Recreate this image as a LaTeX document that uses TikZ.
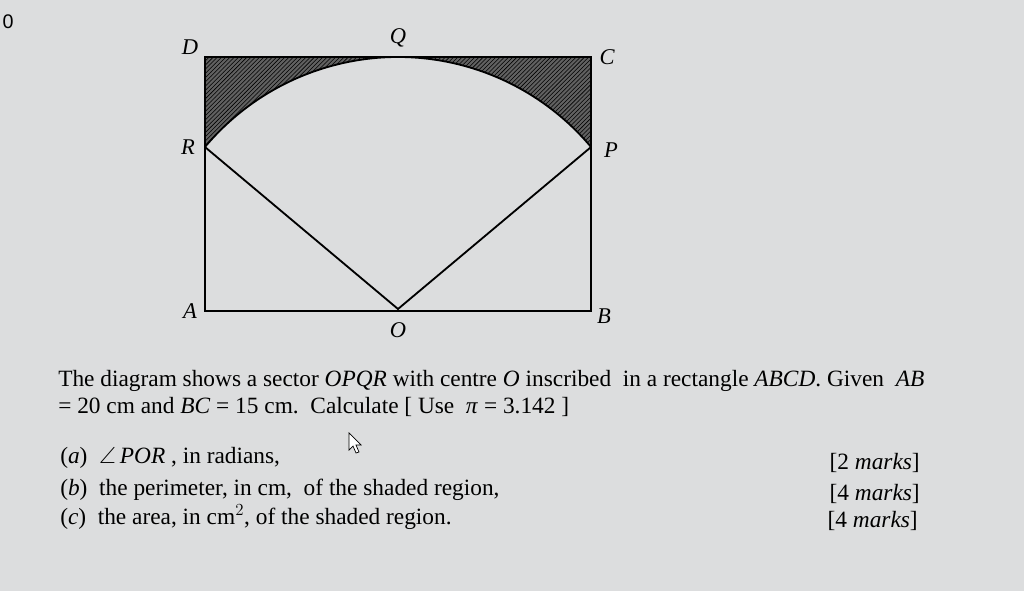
\documentclass[tikz,border=0pt]{standalone}
\usepackage{amsmath,amssymb}
\usepackage{xcolor}
\usepackage{fontspec}
\setmainfont{Liberation Serif}
\newfontfamily\numfont{Liberation Sans}
\usetikzlibrary{patterns,calc}
\definecolor{paper}{RGB}{220,221,222}

\begin{document}
\begin{tikzpicture}[x=0.025cm, y=0.025cm,
        lbl/.style={font=\fontsize{16}{18}\selectfont\itshape, inner sep=0pt},
        txt/.style={font=\fontsize{16.6}{19}\selectfont, inner sep=0pt, anchor=west},
        mrk/.style={font=\fontsize{16.6}{19}\selectfont, inner sep=0pt, anchor=east},
        edge/.style={black, line width=1.3pt}]
        \fill [paper] (0,0) rectangle (1024,591);
        \useasboundingbox (0,0) rectangle (1024,591);

        \coordinate (A) at (205,280);
        \coordinate (B) at (591,280);
        \coordinate (C) at (591,534);
        \coordinate (D) at (205,534);
        \coordinate (O) at (398,282);
        \coordinate (Q) at (398,534);
        \coordinate (R) at ($(O)+(140:252)$);
        \coordinate (P) at ($(O)+(40:252)$);

        % shaded region
        \fill [black!62] (R) arc [start angle=140, end angle=40, radius=252] -- (C) -- (D) -- cycle;
        \fill [pattern=north east lines, pattern color=black] (R) arc [start angle=140, end angle=40, radius=252] -- (C) -- (D) -- cycle;

        \draw [edge] (A) -- (B) -- (C) -- (D) -- cycle;
        \draw [edge] (R) arc [start angle=140, end angle=40, radius=252];
        \draw [edge] (R) -- (O) -- (P);

        \node [lbl] (lD) at (190,544) {D};
        \node [lbl] (lQ) at (398,553) {Q};
        \node [lbl] (lC) at (607,534) {C};
        \node [lbl] (lR) at (188,444) {R};
        \node [lbl] (lP) at (611,441) {P};
        \node [lbl] (lA) at (190,280) {A};
        \node [lbl] (lB) at (604,275) {B};
        \node [lbl] (lO) at (398,261) {O};

        \node [font=\fontsize{14}{16}\numfont, inner sep=0pt] (num) at (8,569) {0};

        % question text
        \node [txt] (t1) at (58,210) {The diagram shows a sector \textit{OPQR} with centre \textit{O} inscribed\ \ in a rectangle \textit{ABCD}. Given\ \ \textit{AB}};
        \node [txt] (t2) at (58,184) {= 20 cm and \textit{BC} = 15 cm.\ \ Calculate [ Use\ \ \textit{π} = 3.142 ]};
        \node [txt] (ta) at (60,133) {(\textit{a})\ \ $\angle$\,\textit{POR} , in radians,};
        \node [txt] (tb) at (60,101) {(\textit{b})\ \ the perimeter, in cm,\ \ of the shaded region,};
        \node [txt] (tc) at (60,74) {(\textit{c})\ \ the area, in cm$^2$, of the shaded region.};
        \node [mrk] (ma) at (920,128) {[2 \textit{marks}]};
        \node [mrk] (mb) at (920,97) {[4 \textit{marks}]};
        \node [mrk] (mc) at (918,70) {[4 \textit{marks}]};

        % pointer
        \draw [black, fill=white, line width=0.5pt] (349,158) -- (349,141) -- (353,145) -- (356,138) -- (359,139) -- (356,146) -- (361,146) -- cycle;
\end{tikzpicture}
\end{document}
